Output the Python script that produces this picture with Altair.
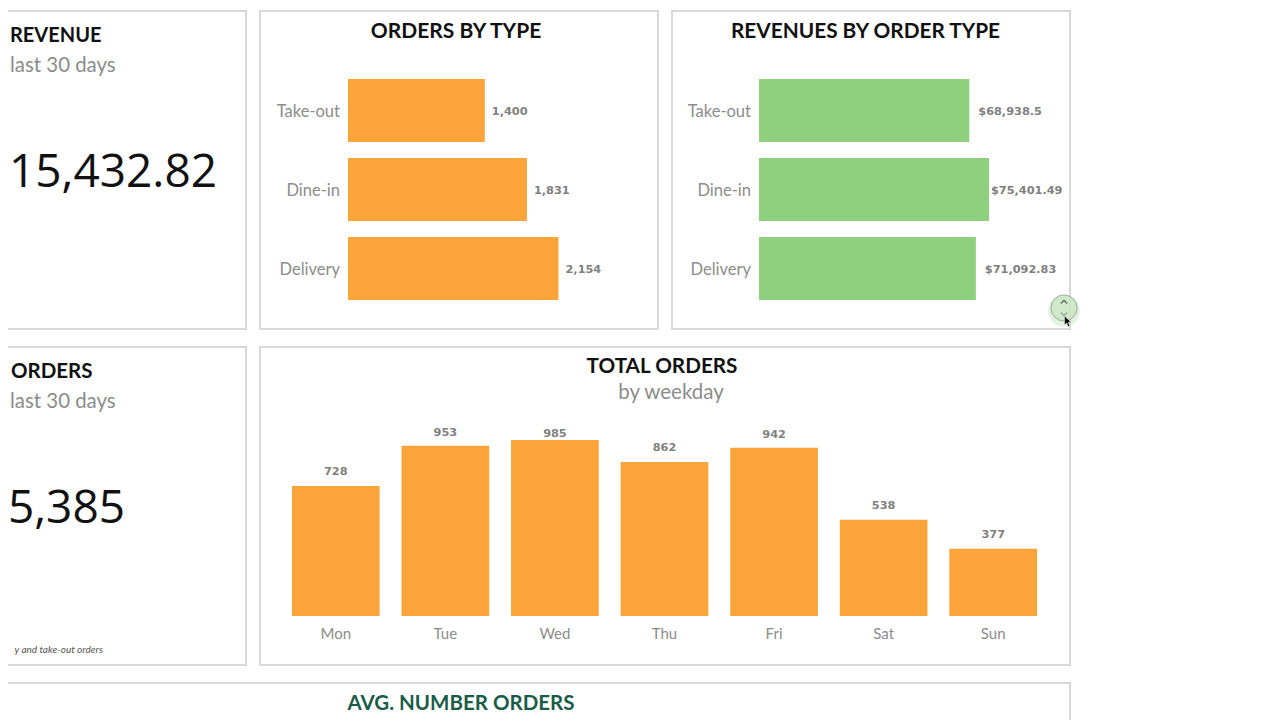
import altair as alt
import pandas as pd

order_types = ["Take-out", "Dine-in", "Delivery"]
orders_by_type = [1400, 1831, 2154]
orders_labels = ["1,400", "1,831", "2,154"]
revenue_by_type = [68938.5, 75401.49, 71092.83]
revenue_labels = ["$68,938.5", "$75,401.49", "$71,092.83"]
weekdays = ["Mon", "Tue", "Wed", "Thu", "Fri", "Sat", "Sun"]
orders_by_day = [728, 953, 985, 862, 942, 538, 377]

ORANGE = "#faa43a"
GREEN = "#8fd07e"
GREY = "#8c8c8c"
LABEL_GREY = "#7f7f7f"
TITLE_FONT = "Lato"
VALUE_FONT = "DejaVu Sans"

dummy = pd.DataFrame({"k": [0]})


def txt(s, x, y, size, color="#111111", weight="normal", align="center", style="normal", font=TITLE_FONT):
    return alt.Chart(dummy).mark_text(
        text=s, fontSize=size, color=color, fontWeight=weight, align=align,
        baseline="middle", fontStyle=style, font=font,
    ).encode(x=alt.value(x), y=alt.value(y))


def hbars(values, labels, color, x_range, label_x, title, title_x, title_size, dx_main, dx_dine):
    df = pd.DataFrame({"type": order_types, "value": values, "label": labels})
    y = alt.Y("type:N", sort=order_types, axis=None,
              scale=alt.Scale(domain=order_types, range=[60, 297], paddingInner=0.2, paddingOuter=0.1))
    x = alt.X("value:Q", axis=None, scale=alt.Scale(domain=[0, max(values)], range=x_range, nice=False, zero=True))
    base = alt.Chart(df)
    bars = base.mark_bar(color=color, cornerRadius=0).encode(x=x, y=y)
    cats = base.mark_text(align="right", baseline="middle", fontSize=16.5, dy=1, color=GREY, font=TITLE_FONT).encode(
        x=alt.value(label_x), y=y, text="type:N")
    vals = base.transform_filter("datum.type != 'Dine-in'").mark_text(
        align="left", baseline="middle", dx=dx_main, dy=1, fontSize=11.3, fontWeight="bold", color=LABEL_GREY, font=VALUE_FONT
    ).encode(x=x, y=y, text="label:N")
    val2 = base.transform_filter("datum.type == 'Dine-in'").mark_text(
        align="left", baseline="middle", dx=dx_dine, dy=1, fontSize=11.3, fontWeight="bold", color=LABEL_GREY, font=VALUE_FONT
    ).encode(x=x, y=y, text="label:N")
    head = txt(title, title_x, 21, title_size, weight="bold")
    return [bars, cats, vals, val2, head]


# KPI panels (their left edge runs off the page, as in the reference)
kpi_rev = alt.layer(
    txt("REVENUE", 14, 25, 20, weight="bold", align="left"),
    txt("last 30 days", 14, 55, 20.4, color=GREY, align="left"),
    txt("15,432.82", 221, 162, 46, color="#111111", align="right", font="Open Sans"),
).properties(width=250, height=318)

kpi_ord = alt.layer(
    txt("ORDERS", 15, 25, 20.5, weight="bold", align="left"),
    txt("last 30 days", 14, 55, 20.4, color=GREY, align="left"),
    txt("5,385", 129, 162, 46, color="#111111", align="right", font="Open Sans"),
    txt("y and take-out orders", 107, 303, 10, color="#555555", align="right", style="italic"),
).properties(width=250, height=318)

p_orders = alt.layer(*hbars(orders_by_type, orders_labels, ORANGE, [88, 298.5], 80, "ORDERS BY TYPE", 196, 21, 7, 7)).properties(
    width=398, height=318)

# scroll widget and mouse pointer sitting on the third panel's corner
widget = [
    alt.Chart(dummy).mark_point(shape="circle", size=1000, filled=True, color="#a9dba0", opacity=0.35).encode(
        x=alt.value(392), y=alt.value(300)),
    alt.Chart(dummy).mark_point(shape="circle", size=680, filled=True, fill="#c9e6c2", stroke="#8a8a8a", strokeWidth=1).encode(
        x=alt.value(392), y=alt.value(297)),
    alt.Chart(dummy).mark_point(shape="M-1,0.5L0,-0.5L1,0.5", size=40, color="#444444", strokeWidth=1.5).encode(
        x=alt.value(392), y=alt.value(291)),
    alt.Chart(dummy).mark_point(shape="M-1,-0.5L0,0.5L1,-0.5", size=40, color="#7a9a7a", strokeWidth=1.5).encode(
        x=alt.value(392), y=alt.value(303)),
    alt.Chart(dummy).mark_point(
        shape="M-1,-1.5L-1,1.1L-0.4,0.6L0.05,1.6L0.5,1.4L0.05,0.45L0.85,0.4Z",
        size=50, filled=True, color="#000000", opacity=1, stroke="#ffffff", strokeWidth=0.5).encode(
        x=alt.value(396), y=alt.value(310)),
]
p_rev = alt.layer(*hbars(revenue_by_type, revenue_labels, GREEN, [87, 317], 79, "REVENUES BY ORDER TYPE", 193.5, 20.8, 9, 2), *widget).properties(
    width=398, height=318)

day_df = pd.DataFrame({"day": weekdays, "orders": orders_by_day})
dx = alt.X("day:N", sort=weekdays, axis=None,
           scale=alt.Scale(domain=weekdays, range=[21, 788], paddingInner=0.2, paddingOuter=0.1))
dy = alt.Y("orders:Q", axis=None, scale=alt.Scale(domain=[0, 985], range=[269, 93], nice=False))


def day_labels(condition, offset):
    return alt.Chart(day_df).transform_filter(condition).mark_text(
        baseline="bottom", dy=offset, fontSize=11.3, fontWeight="bold", color=LABEL_GREY, font=VALUE_FONT
    ).encode(x=dx, y=dy, text=alt.Text("orders:Q"))


p_days = alt.layer(
    alt.Chart(day_df).mark_bar(color=ORANGE).encode(x=dx, y=dy),
    day_labels("datum.orders < 900", -9),
    day_labels("datum.orders >= 900 && datum.orders < 980", -7.5),
    day_labels("datum.orders >= 980", -1),
    alt.Chart(day_df).mark_text(baseline="middle", fontSize=15, color=GREY, font=TITLE_FONT).encode(
        x=dx, y=alt.value(287), text="day:N"),
    txt("TOTAL ORDERS", 402, 20, 20.7, weight="bold"),
    txt("by weekday", 411, 46, 20.5, color=GREY),
).properties(width=810, height=318)

p_avg = alt.layer(
    txt("AVG. NUMBER ORDERS", 465, 21, 20.5, color="#1a5c48", weight="bold"),
).properties(width=1074, height=60)

row1 = alt.hconcat(kpi_rev, p_orders, p_rev, spacing=12)
row2 = alt.hconcat(kpi_ord, p_days, spacing=12)
top = alt.vconcat(row1, row2, spacing=16)
chart = alt.vconcat(top, p_avg, spacing=16).properties(
    padding={"left": -13, "top": 2, "right": 13, "bottom": 0},
    background="white",
).configure_view(stroke="#d9d9d9", strokeWidth=2)

chart.save("out.html", embed_options={"renderer": "svg", "actions": False})
